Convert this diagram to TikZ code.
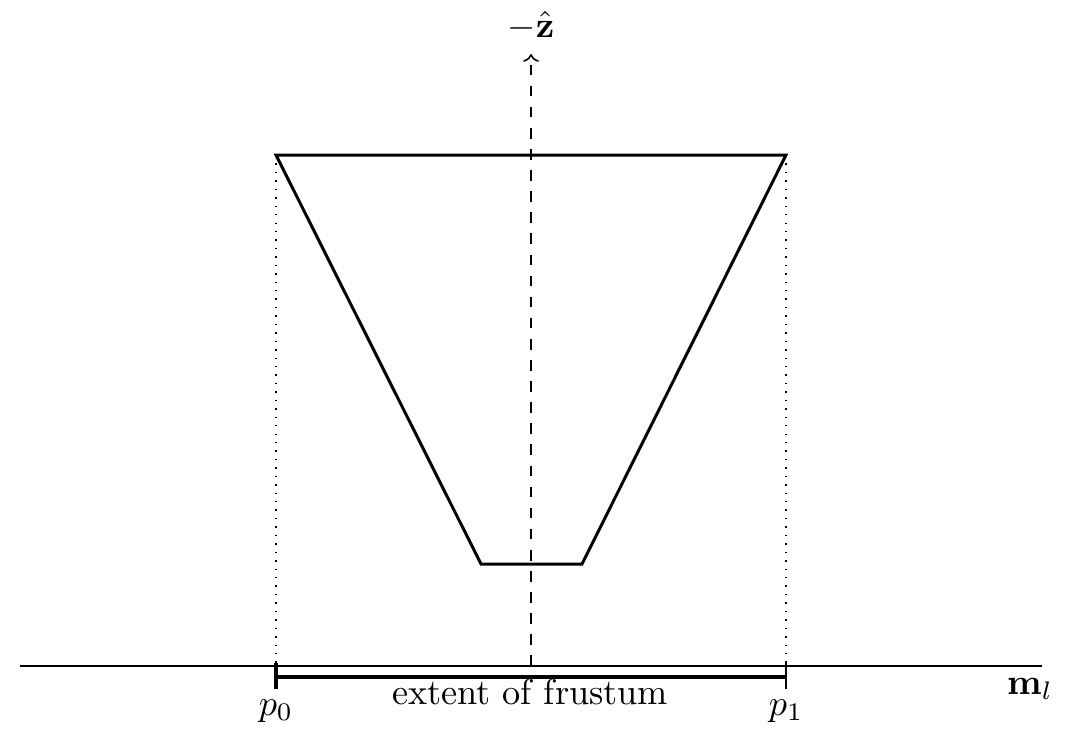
\documentclass[tikz,border=0pt]{standalone}
\usepackage{amsmath}
\usepackage{bm}
\usetikzlibrary{arrows.meta}
\begin{document}
\begin{tikzpicture}[x=0.01cm,y=-0.01cm,
  frust/.style={line width=0.85pt,line join=miter},
  guide/.style={dotted,line width=0.4pt},
  axisline/.style={line width=0.45pt},
  extbar/.style={line width=0.9pt},
  lbl/.style={inner sep=0pt}]
\useasboundingbox (0,0) rectangle (1080,739);
% coordinates
\coordinate (tl) at (276,155);
\coordinate (tr) at (786,155);
\coordinate (bl) at (481,564);
\coordinate (br) at (582,564);
\coordinate (axL) at (20,666);
\coordinate (axR) at (1042,666);
\coordinate (p0a) at (276,666);
\coordinate (p1a) at (786,666);
\coordinate (zb) at (531,666);
\coordinate (zt) at (531,54);
\coordinate (e0) at (276,677);
\coordinate (e1) at (786,677);
\coordinate (t0a) at (276,663);
\coordinate (t0b) at (276,689);
\coordinate (t1a) at (786,663);
\coordinate (t1b) at (786,689);
% guides
\draw[guide] (tl) -- (p0a);
\draw[guide] (tr) -- (p1a);
% horizontal axis
\draw[axisline] (axL) -- (axR);
% z axis
\draw[dashed,line width=0.45pt,-{To[length=2.2pt,width=4.5pt]}] (zb) -- (zt);
% frustum
\draw[frust] (tl) -- (tr) -- (br) -- (bl) -- cycle;
% extent bar
\draw[extbar] (e0) -- (e1);
\draw[extbar] (t0a) -- (t0b);
\draw[axisline] (t1a) -- (t1b);
% labels
\node[lbl,scale=1.03] (zl) at (531,26) {$-\hat{\mathbf{z}}$};
\node[lbl,scale=1.03] (p0) at (276,711) {$p_0$};
\node[lbl,scale=1.03] (p1) at (786,711) {$p_1$};
\node[lbl,scale=1.03] (ext) at (530,692) {extent of frustum};
\node[lbl,scale=1.03] (ml) at (1030,689) {$\mathbf{m}_l$};
\end{tikzpicture}
\end{document}
